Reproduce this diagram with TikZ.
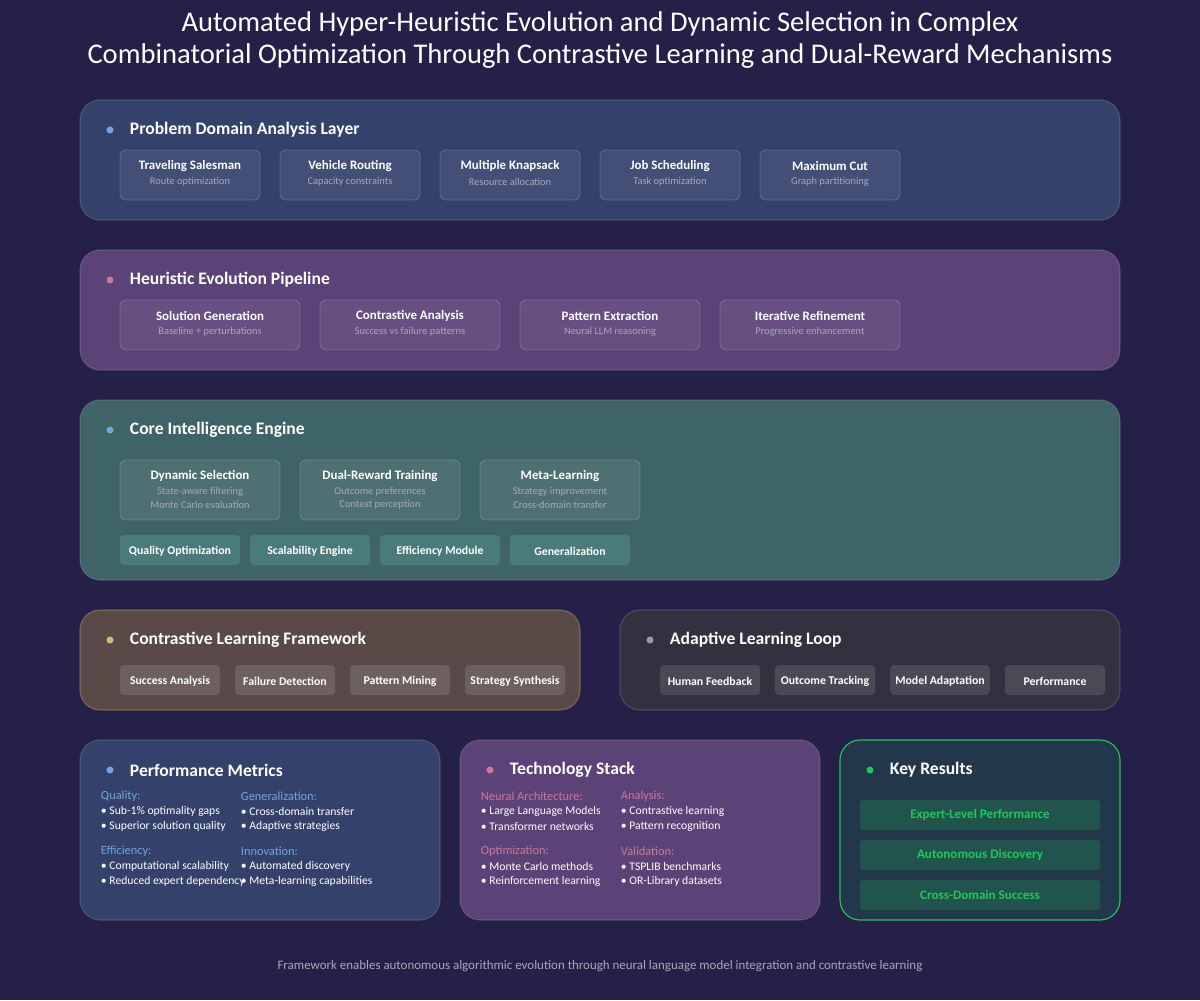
\documentclass[tikz,border=0pt]{standalone}
\usepackage{fontspec}
\setmainfont{Carlito}
\begin{document}
\definecolor{bg}{HTML}{252047}
\definecolor{pblue}{HTML}{34416B}
\definecolor{ppurp}{HTML}{5B4277}
\definecolor{pteal}{HTML}{3F6468}
\definecolor{pbrown}{HTML}{594A48}
\definecolor{pgrey}{HTML}{34303F}
\definecolor{pkey}{HTML}{22384A}
\definecolor{kgreen}{HTML}{22C55E}
\definecolor{dblue}{HTML}{6EA8DC}
\definecolor{dpink}{HTML}{C9799A}
\definecolor{dgold}{HTML}{D9B57A}
\definecolor{dgrey}{HTML}{9A9AA8}
\definecolor{subt}{HTML}{A8A8B8}
\definecolor{tealtag}{HTML}{4A7A7A}
\begin{tikzpicture}[x=0.025cm,y=-0.025cm,
  panel/.style={rounded corners=0.5cm,draw=white,draw opacity=0.15,line width=0.8pt},
  card/.style={rounded corners=0.15cm,fill=white,fill opacity=0.08,draw=white,draw opacity=0.18,line width=0.6pt,text opacity=1},
  hdr/.style={anchor=west,text=white,font=\fontsize{12.5}{14}\selectfont\bfseries},
  ct/.style={text=white,font=\fontsize{9.2}{10}\selectfont\bfseries},
  tg/.style={text=white,font=\fontsize{8.4}{9}\selectfont\bfseries},
  cs/.style={text=subt,font=\fontsize{7.4}{8.5}\selectfont},
  lab/.style={anchor=west,font=\fontsize{8.8}{10}\selectfont},
  itm/.style={anchor=west,text=white,font=\fontsize{8.3}{10}\selectfont},
  dot/.style={circle,inner sep=0pt,minimum size=5pt}]
\fill[bg] (0,0) rectangle (1200,1000);
\useasboundingbox (0,0) rectangle (1200,1000);
\node[text=white,align=center,font=\fontsize{20.3}{22.5}\selectfont] (title) at (600,40) {Automated Hyper-Heuristic Evolution and Dynamic Selection in Complex\\Combinatorial Optimization Through Contrastive Learning and Dual-Reward Mechanisms};

% Panel 1
\fill[pblue,panel] (80,100) rectangle (1120,220);
\node[dot,fill=dblue] (d1) at (110,130) {};
\node[hdr] (h1) at (125,130) {Problem Domain Analysis Layer};
\foreach \i/\t/\s in {0/Traveling Salesman/Route optimization,1/Vehicle Routing/Capacity constraints,2/Multiple Knapsack/Resource allocation,3/Job Scheduling/Task optimization,4/Maximum Cut/Graph partitioning}{
  \draw[card] (120+160*\i,150) rectangle ++(140,50);
  \node[ct] (a\i) at (190+160*\i,166) {\t};
  \node[cs] (as\i) at (190+160*\i,182) {\s};
}
% Panel 2
\fill[ppurp,panel] (80,250) rectangle (1120,370);
\node[dot,fill=dpink] (d2) at (110,280) {};
\node[hdr] (h2) at (125,280) {Heuristic Evolution Pipeline};
\foreach \i/\t/\s in {0/Solution Generation/Baseline + perturbations,1/Contrastive Analysis/Success vs failure patterns,2/Pattern Extraction/Neural LLM reasoning,3/Iterative Refinement/Progressive enhancement}{
  \draw[card] (120+200*\i,300) rectangle ++(180,50);
  \node[ct] (b\i) at (210+200*\i,316) {\t};
  \node[cs] (bs\i) at (210+200*\i,332) {\s};
}
% Panel 3
\fill[pteal,panel] (80,400) rectangle (1120,580);
\node[dot,fill=dblue] (d3) at (110,430) {};
\node[hdr] (h3) at (125,430) {Core Intelligence Engine};
\foreach \i/\t/\s/\u in {0/Dynamic Selection/State-aware filtering/Monte Carlo evaluation,1/Dual-Reward Training/Outcome preferences/Context perception,2/Meta-Learning/Strategy improvement/Cross-domain transfer}{
  \draw[card] (120+180*\i,460) rectangle ++(160,60);
  \node[ct] (c\i) at (200+180*\i,476) {\t};
  \node[cs] (cs\i) at (200+180*\i,492) {\s};
  \node[cs] (cu\i) at (200+180*\i,505) {\u};
}
\foreach \i/\t in {0/Quality Optimization,1/Scalability Engine,2/Efficiency Module,3/Generalization}{
  \fill[tealtag,rounded corners=0.1cm] (120+130*\i,535) rectangle ++(120,30);
  \node[tg] (e\i) at (180+130*\i,551) {\t};
}
% Panel 4a
\fill[pbrown,panel,draw=dgold,draw opacity=0.35] (80,610) rectangle (580,710);
\node[dot,fill=dgold] (d4) at (110,640) {};
\node[hdr] (h4) at (125,640) {Contrastive Learning Framework};
\foreach \i/\t in {0/Success Analysis,1/Failure Detection,2/Pattern Mining,3/Strategy Synthesis}{
  \fill[white,fill opacity=0.12,rounded corners=0.1cm] (120+115*\i,665) rectangle ++(100,30);
  \node[tg] (f\i) at (170+115*\i,681) {\t};
}
% Panel 4b
\fill[pgrey,panel] (620,610) rectangle (1120,710);
\node[dot,fill=dgrey] (d5) at (650,640) {};
\node[hdr] (h5) at (665,640) {Adaptive Learning Loop};
\foreach \i/\t in {0/Human Feedback,1/Outcome Tracking,2/Model Adaptation,3/Performance}{
  \fill[white,fill opacity=0.12,rounded corners=0.1cm] (660+115*\i,665) rectangle ++(100,30);
  \node[tg] (g\i) at (710+115*\i,681) {\t};
}
% Panel 5a
\fill[pblue,panel] (80,740) rectangle (440,920);
\node[dot,fill=dblue] (d6) at (110,770) {};
\node[hdr] (h6) at (125,770) {Performance Metrics};
\node[lab,text=dblue] (m1) at (96,796) {Quality:};
\node[itm] (m2) at (96,811) {• Sub-1\% optimality gaps};
\node[itm] (m3) at (96,826) {• Superior solution quality};
\node[lab,text=dblue] (m4) at (236,796) {Generalization:};
\node[itm] (m5) at (236,811) {• Cross-domain transfer};
\node[itm] (m6) at (236,826) {• Adaptive strategies};
\node[lab,text=dblue] (m7) at (96,851) {Efficiency:};
\node[itm] (m8) at (96,866) {• Computational scalability};
\node[itm] (m9) at (96,881) {• Reduced expert dependency};
\node[lab,text=dblue] (m10) at (236,851) {Innovation:};
\node[itm] (m11) at (236,866) {• Automated discovery};
\node[itm] (m12) at (236,881) {• Meta-learning capabilities};
% Panel 5b
\fill[ppurp,panel] (460,740) rectangle (820,920);
\node[dot,fill=dpink] (d7) at (490,770) {};
\node[hdr] (h7) at (505,770) {Technology Stack};
\node[lab,text=dpink] (t1) at (476,796) {Neural Architecture:};
\node[itm] (t2) at (476,811) {• Large Language Models};
\node[itm] (t3) at (476,826) {• Transformer networks};
\node[lab,text=dpink] (t4) at (616,796) {Analysis:};
\node[itm] (t5) at (616,811) {• Contrastive learning};
\node[itm] (t6) at (616,826) {• Pattern recognition};
\node[lab,text=dpink] (t7) at (476,851) {Optimization:};
\node[itm] (t8) at (476,866) {• Monte Carlo methods};
\node[itm] (t9) at (476,881) {• Reinforcement learning};
\node[lab,text=dpink] (t10) at (616,851) {Validation:};
\node[itm] (t11) at (616,866) {• TSPLIB benchmarks};
\node[itm] (t12) at (616,881) {• OR-Library datasets};
% Panel 5c
\fill[pkey,rounded corners=0.5cm,draw=kgreen,line width=0.8pt] (840,740) rectangle (1120,920);
\node[dot,fill=kgreen] (d8) at (870,770) {};
\node[hdr] (h8) at (885,770) {Key Results};
\foreach \i/\t in {0/Expert-Level Performance,1/Autonomous Discovery,2/Cross-Domain Success}{
  \fill[kgreen,fill opacity=0.2,rounded corners=0.08cm] (860,800+40*\i) rectangle ++(240,30);
  \node[text=kgreen,font=\fontsize{9.3}{10}\selectfont\bfseries] (k\i) at (980,815+40*\i) {\t};
}
\node[text=subt,font=\fontsize{9.2}{10}\selectfont] (foot) at (600,966) {Framework enables autonomous algorithmic evolution through neural language model integration and contrastive learning};
\end{tikzpicture}
\end{document}
